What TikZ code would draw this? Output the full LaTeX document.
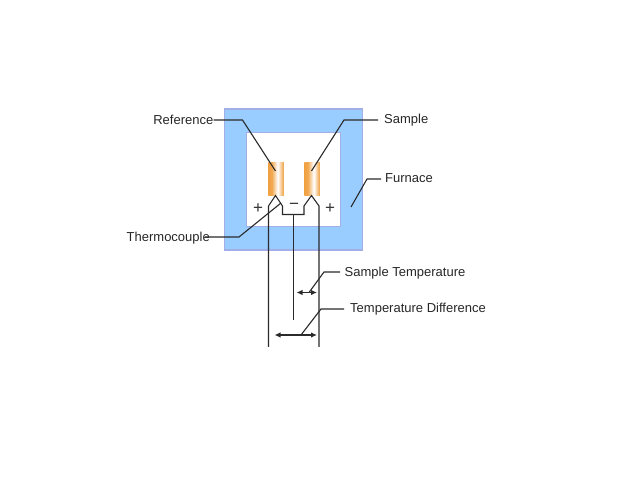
\documentclass[tikz,border=0pt]{standalone}
\usepackage{fontspec}
\setmainfont{Liberation Sans}
\usetikzlibrary{arrows.meta, shapes.geometric}
\definecolor{furnaceblue}{HTML}{99CCFF}
\definecolor{furnaceedge}{HTML}{A3AEE6}
\definecolor{cuporange}{HTML}{F0A040}
\definecolor{wiregray}{HTML}{2A2A2A}
\pgfdeclarehorizontalshading{cupshade}{100bp}{color(0bp)=(cuporange); color(25bp)=(cuporange); color(37bp)=(cuporange!90!white); color(52bp)=(cuporange!15!white); color(56bp)=(white); color(66bp)=(cuporange!55!white); color(75bp)=(cuporange); color(100bp)=(cuporange)}
\tikzstyle{furnacebox} = [rectangle, inner sep=0pt, minimum width=138pt, minimum height=141pt, line width=1.2pt, draw=furnaceedge, fill=furnaceblue]
\tikzstyle{chamberbox} = [rectangle, inner sep=0pt, minimum width=94pt, minimum height=94pt, line width=1.2pt, draw=furnaceedge, fill=white]
\tikzstyle{cup} = [rectangle, inner sep=0pt, minimum width=15.5pt, minimum height=33pt, shading=cupshade]
\tikzstyle{label} = [inner sep=0pt, font=\fontsize{13}{15}\selectfont, text=black!85]
\tikzstyle{sign} = [inner sep=0pt, font=\fontsize{17}{18}\selectfont, text=black!80]
\tikzstyle{wire} = [line width=1.1pt, draw=wiregray]
\tikzstyle{arrow} = [line width=1.1pt, draw=wiregray, {Latex[length=6pt,width=5.5pt]}-{Latex[length=6pt,width=5.5pt]}]

\begin{document}
\begin{tikzpicture} [x=1pt, y=-1pt, node distance=36pt]
\useasboundingbox (0,0) rectangle (638,478);
\node (furnace) [furnacebox] at (293.6,179.5) {};
\node (chamber) [chamberbox] at (293.7,179.2) {};
\node (refcup) [cup] at (276,179.2) {};
\node (samcup) [cup, right of=refcup] {};

\node (reflabel) [label, anchor=east] at (213.5,119.8) {Reference};
\node (samlabel) [label, anchor=west] at (384,120.5) {Sample};
\node (furlabel) [label, anchor=west] at (385,178.5) {Furnace};
\node (thermolabel) [label, anchor=east] at (210,238.5) {Thermocouple};
\node (stemplabel) [label, anchor=west] at (344.5,273) {Sample Temperature};
\node (difflabel) [label, anchor=west] at (350,309) {Temperature Difference};

\node (plusl) [sign] at (258,209) {+};
\node (minus) [sign] at (294,206) {\textminus};
\node (plusr) [sign] at (330,209) {+};

\coordinate (refend) at (275.5,171);
\coordinate (samend) at (311.5,171);
\coordinate (furend) at (351,207);
\coordinate (thermoend) at (281,203);
\coordinate (legl) at (268.5,347);
\coordinate (legm) at (293.5,320);
\coordinate (legr) at (319,347);
\coordinate (busm) at (293.5,214.5);

\draw [wire] (reflabel.east) ++(0,0.2) -- ++(29,0) -- (refend);
\draw [wire] (samlabel.west) ++(-6,-0.5) -- ++(-34,0) -- (samend);
\draw [wire] (furlabel.west) ++(-4,0.5) -- ++(-14,0) -- (furend);
\draw [wire] (thermolabel.east) ++(-5,-1.5) -- ++(34,0) -- (thermoend);

\draw [wire] (legl) |- (268.5,206) -- (275.5,195.5) -- (282.5,206) |- (busm) -| (304,206) -- (311.5,195.5) -- (319,206) -- (legr);
\draw [wire] (busm) -- (legm);

\coordinate (stempl) at (296.5,292.5);
\coordinate (stempr) at (317,292.5);
\coordinate (diffl) at (274.5,335);
\coordinate (diffr) at (317,335);
\draw [arrow] (stempl) -- (stempr);
\draw [arrow] (diffl) -- (diffr);
\draw [wire] (309,292.5) -- (324,272) -- ++(16,0);
\draw [wire] (301,335) -- (321,309) -- ++(23,0);
\end{tikzpicture}
\end{document}
